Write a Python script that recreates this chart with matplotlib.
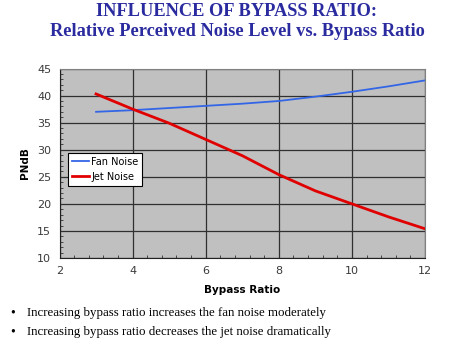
import matplotlib.pyplot as plt
from matplotlib.ticker import MultipleLocator

# values
fan_bpr = [3, 4, 5, 6, 7, 8, 9, 10, 11, 12]
fan_pndb = [37.0, 37.3, 37.7, 38.1, 38.5, 39.0, 39.8, 40.7, 41.7, 42.8]
jet_bpr = [3, 4, 5, 6, 7, 8, 9, 10, 11, 12]
jet_pndb = [40.3, 37.5, 34.9, 31.9, 28.9, 25.4, 22.4, 20.0, 17.6, 15.4]

title_lines = ["INFLUENCE OF BYPASS RATIO:",
               "Relative Perceived Noise Level vs. Bypass Ratio"]
bullets = ["Increasing bypass ratio increases the fan noise moderately",
           "Increasing bypass ratio decreases the jet noise dramatically"]

W, H = 474, 355
fig = plt.figure(figsize=(W / 100, H / 100), dpi=100)
ax = fig.add_axes([59.5 / W, 1 - 258 / H, (425 - 59.5) / W, (258 - 68.5) / H])
ax.set_facecolor('#c0c0c0')

ax.plot(fan_bpr, fan_pndb, color='#3366e6', lw=1.3, label='Fan Noise')
ax.plot(jet_bpr, jet_pndb, color='#e00000', lw=2.0, label='Jet Noise')

ax.set_xlim(2, 12)
ax.set_ylim(10, 45)
ax.xaxis.set_major_locator(MultipleLocator(2))
ax.xaxis.set_minor_locator(MultipleLocator(0.4))
ax.yaxis.set_major_locator(MultipleLocator(5))
ax.yaxis.set_minor_locator(MultipleLocator(1))
ax.grid(True, which='major', color='#303030', lw=0.9)
ax.tick_params(which='both', direction='in', labelsize=8, labelcolor='#3a3a3a',
               colors='#333333')
ax.tick_params(which='major', length=0, pad=6)
ax.tick_params(which='minor', length=2)
for side in ['top', 'right']:
    ax.spines[side].set_color('#808080')
for side in ['left', 'bottom']:
    ax.spines[side].set_color('#202020')

ax.set_xlabel('Bypass Ratio', fontsize=7.5, fontweight='bold', labelpad=6)
ax.set_ylabel('PNdB', fontsize=7.5, fontweight='bold', labelpad=5)

leg = ax.legend(loc='upper left', bbox_to_anchor=(8.5 / 365.5, 1 - 84.5 / 189.5),
                fontsize=7, frameon=True, fancybox=False, framealpha=1,
                edgecolor='black', handlelength=1.8, handletextpad=0.2,
                borderpad=0.4, labelspacing=0.5, borderaxespad=0)
leg.get_frame().set_linewidth(0.8)

fig.text(0.5, 1 - 11 / H, title_lines[0], ha='center', va='center',
         family='Liberation Serif', fontweight='bold', fontsize=13.2, color='#2b2ba0')
fig.text(0.5, 1 - 32 / H, title_lines[1], ha='center', va='center',
         family='Liberation Serif', fontweight='bold', fontsize=13.2, color='#2b2ba0')

for i, line in enumerate(bullets):
    y = 1 - (313 + 19 * i) / H
    fig.text(10 / W, y, u'\u2022', ha='left', va='center',
             family='Liberation Serif', fontsize=10)
    fig.text(27 / W, y, line, ha='left', va='center',
             family='Liberation Serif', fontsize=9.3)

fig.savefig('out.png', dpi=100)
